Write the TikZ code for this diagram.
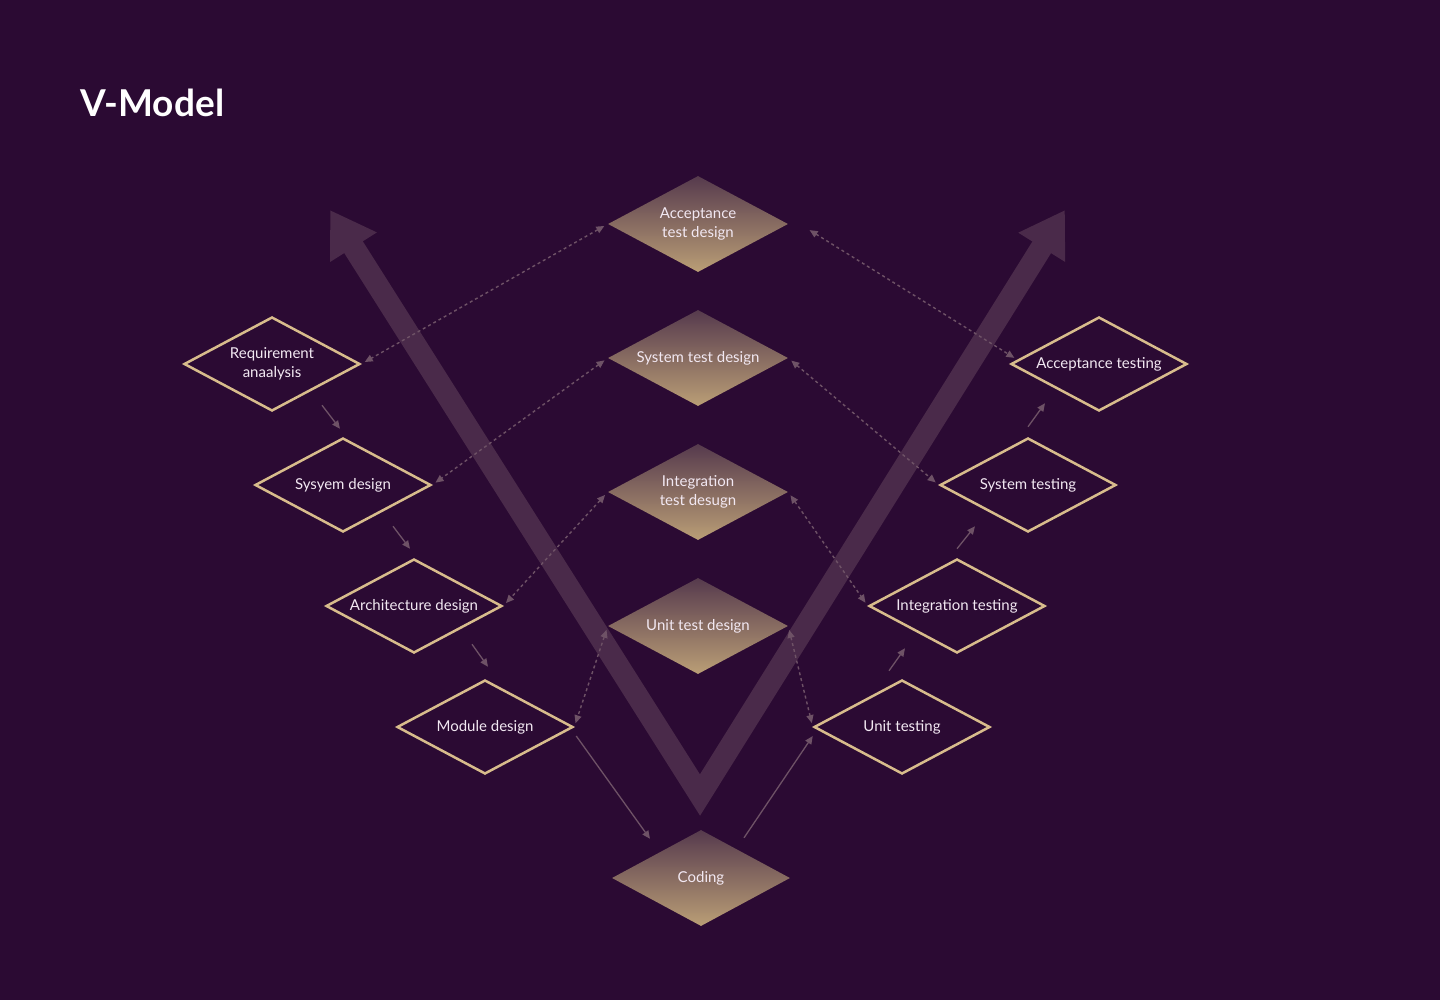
\documentclass[tikz,border=0pt]{standalone}
\usepackage{fontspec}
\setmainfont{Lato}
\usetikzlibrary{shapes.geometric,arrows.meta}
\definecolor{bg}{HTML}{2B0A33}
\definecolor{gold}{HTML}{D8BC8C}
\definecolor{vcol}{HTML}{4A2A4A}
\definecolor{link}{HTML}{6E5266}
\definecolor{shtop}{HTML}{563A4D}
\definecolor{shbot}{HTML}{BA9E76}
\definecolor{txt}{HTML}{F2E8F2}
\tikzstyle{phase}=[diamond,draw=gold,line width=2.5pt,minimum width=176pt,minimum height=94pt,inner sep=0pt,aspect=1.87,text=txt,align=center,font=\fontsize{15}{19}\selectfont]
\tikzstyle{plan}=[diamond,top color=shtop,bottom color=shbot,minimum width=180pt,minimum height=96pt,inner sep=0pt,aspect=1.87,text=txt,align=center,font=\fontsize{15}{19}\selectfont]
\tikzstyle{flow}=[draw=link,line width=1.3pt,-{Triangle[length=8pt,width=7pt]}]
\tikzstyle{sync}=[draw=link,line width=1.4pt,dash pattern=on 3pt off 3pt,{Triangle[length=8pt,width=7pt]}-{Triangle[length=8pt,width=7pt]},shorten >=4pt,shorten <=4pt]

\begin{document}
\begin{tikzpicture}[x=1pt,y=-1pt]
          \fill[bg] (0,0) rectangle (1440,1000);
          \node[anchor=base west,inner sep=0pt,text=white,font=\fontsize{37}{42}\selectfont\bfseries] (title) at (80,117) {V-Model};
          % the big V
          \coordinate (vleft) at (330,210);
          \coordinate (vbottom) at (700,795);
          \coordinate (vright) at (1065,210);
          \draw[vcol,line width=22pt,line join=miter,{Triangle[length=44pt,width=52pt]}-{Triangle[length=44pt,width=52pt]}] (vleft) -- (vbottom) -- (vright);
          % left side
          \node[phase] (req) at (272,364) {Requirement\\anaalysis};
          \node[phase] (sysdes) at (343,485) {Sysyem design};
          \node[phase] (archdes) at (414,606) {Architecture design};
          \node[phase] (moddes) at (485,727) {Module design};
          % middle
          \node[plan] (accplan) at (698,224) {Acceptance\\test design};
          \node[plan] (sysplan) at (698,358) {System test design};
          \node[plan] (intplan) at (698,492) {Integration\\test desugn};
          \node[plan] (unitplan) at (698,626) {Unit test design};
          \node[plan,minimum width=178pt] (code) at (701,878) {Coding};
          % right side
          \node[phase] (acctest) at (1099,364) {Acceptance testing};
          \node[phase] (systest) at (1028,485) {System testing};
          \node[phase] (inttest) at (957,606) {Integration testing};
          \node[phase] (unittest) at (902,727) {Unit testing};
          \path
            ([shift={(50,-7)}]req.south) edge[flow] ([shift={(-3,-8)}]sysdes.north)
            ([shift={(50,-7)}]sysdes.south) edge[flow] ([shift={(-4,-9)}]archdes.north)
            ([shift={(58,-10)}]archdes.south) edge[flow] ([shift={(3,-12)}]moddes.north)
            ([shift={(2,9)}]moddes.east) edge[flow] ([shift={(-51,9)}]code.north)
            ([shift={(43,8)}]code.north) edge[flow] ([shift={(0,9)}]unittest.west)
            ([shift={(-13,-8)}]unittest.north) edge[flow] ([shift={(-52,-6)}]inttest.south)
            ([shift={(0,-9)}]inttest.north) edge[flow] ([shift={(-53,-7)}]systest.south)
            ([shift={(0,-10)}]systest.north) edge[flow] ([shift={(-54,-9)}]acctest.south);
          \path
            (accplan.west) edge[sync] (req.east)
            ([shift={(18,4)}]accplan.east) edge[sync] ([shift={(8,-4)}]acctest.west)
            (sysplan.west) edge[sync] (sysdes.east)
            (sysplan.east) edge[sync] (systest.west)
            (intplan.west) edge[sync] (archdes.east)
            (intplan.east) edge[sync] (inttest.west)
            (unitplan.west) edge[sync] (moddes.east)
            (unitplan.east) edge[sync] (unittest.west);
        \end{tikzpicture}
\end{document}
